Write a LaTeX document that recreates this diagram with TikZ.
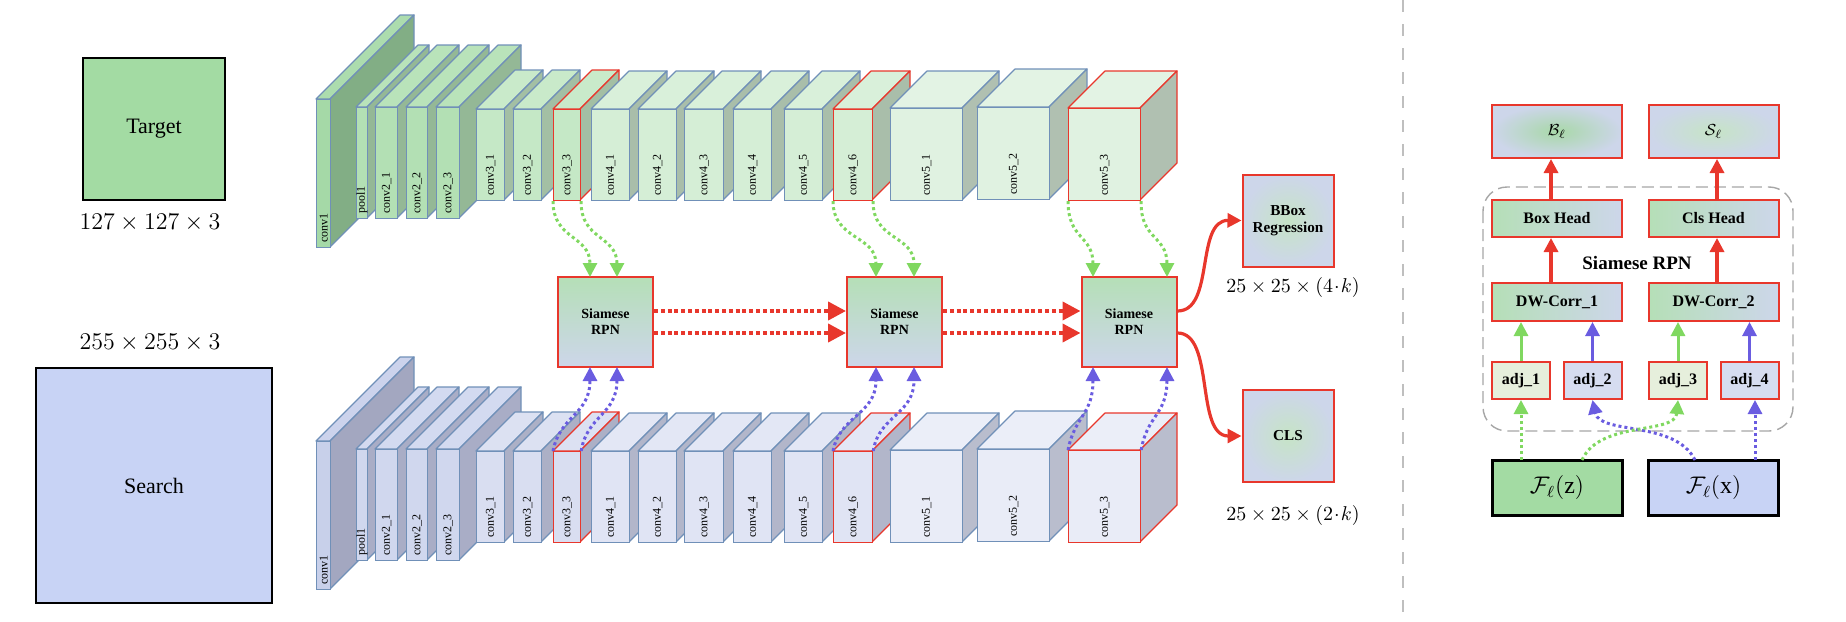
\documentclass[tikz,border=0pt]{standalone}
\usepackage{fontspec}
\setmainfont{Liberation Serif}
\usetikzlibrary{arrows.meta}
\definecolor{g1t}{HTML}{ACDCAE}\definecolor{g1s}{HTML}{82AE85}\definecolor{g1f}{HTML}{A5D9A7}
\definecolor{g2t}{HTML}{B9E3BA}\definecolor{g2s}{HTML}{94B896}\definecolor{g2f}{HTML}{B3E0B4}
\definecolor{g3t}{HTML}{C9EACA}\definecolor{g3s}{HTML}{A3BFA4}\definecolor{g3f}{HTML}{C5E8C6}
\definecolor{g4t}{HTML}{D9F0DA}\definecolor{g4s}{HTML}{A9BEAA}\definecolor{g4f}{HTML}{D5EED6}
\definecolor{g5t}{HTML}{E3F3E4}\definecolor{g5s}{HTML}{B0C0B1}\definecolor{g5f}{HTML}{E0F2E1}
\definecolor{b1t}{HTML}{CCD3EC}\definecolor{b1s}{HTML}{A3A7C0}\definecolor{b1f}{HTML}{C8D0EA}
\definecolor{b2t}{HTML}{D3DAF0}\definecolor{b2s}{HTML}{A9ADC6}\definecolor{b2f}{HTML}{D0D7EE}
\definecolor{b3t}{HTML}{DCE1F2}\definecolor{b3s}{HTML}{ACB0C6}\definecolor{b3f}{HTML}{D9DEF1}
\definecolor{b4t}{HTML}{E3E7F5}\definecolor{b4s}{HTML}{B2B6CA}\definecolor{b4f}{HTML}{E0E4F4}
\definecolor{b5t}{HTML}{EBEEF8}\definecolor{b5s}{HTML}{B9BDCD}\definecolor{b5f}{HTML}{E9ECF7}
\definecolor{bord}{HTML}{7090B8}
\definecolor{rd}{HTML}{E8372C}
\definecolor{gar}{HTML}{80D860}
\definecolor{bar}{HTML}{6A5CE0}
\definecolor{tg}{HTML}{A3DBA3}
\definecolor{sb}{HTML}{C8D3F5}
\definecolor{hg}{HTML}{B5DFB7}
\definecolor{hb}{HTML}{CDD6EA}
\definecolor{glow}{HTML}{C6E4C6}
\definecolor{glowb}{HTML}{A8D8A8}
\definecolor{adjg}{HTML}{E6EFDC}
\definecolor{adjb}{HTML}{D6DCF0}
\newcommand\cuboid[9]{%
 \filldraw[draw=#9, fill=#8t, line width=0.6pt, line join=round] (#2,#3) -- ++(#6,-#6) -- ++(#4,0) -- ++(-#6,#6) -- cycle;
 \filldraw[draw=#9, fill=#8s, line width=0.6pt, line join=round] (#2+#4,#3) -- ++(#6,-#6) -- ++(0,#5) -- ++(-#6,#6) -- cycle;
 \node[draw=#9, fill=#8f, line width=0.6pt, minimum width=#4*0.5pt, minimum height=#5*0.5pt, inner sep=0, anchor=north west] (#1) at (#2,#3) {};
 \path (#1.south) ++(0,-5) node[rotate=90, anchor=west, inner sep=0, font=\fontsize{6}{6}\selectfont] {#7};
}
\tikzset{
 rpn/.style={draw=rd, line width=1pt, top color=hg, bottom color=hb, minimum width=47.5pt, minimum height=45pt, align=center, font=\bfseries\fontsize{7}{8}\selectfont, inner sep=0},
 head/.style={draw=rd, line width=1pt, inner color=glow, outer color=hb, shading=radial, minimum width=45.5pt, minimum height=46pt, align=center, font=\bfseries\fontsize{7.6}{8.6}\selectfont, inner sep=0},
 gdot/.style={gar, line width=1.5pt, dash pattern=on 1.5pt off 1.5pt, -{Triangle[width=7pt,length=7pt]}},
 bdot/.style={bar, line width=1.5pt, dash pattern=on 1.5pt off 1.5pt, -{Triangle[width=7pt,length=7pt]}},
 rdash/.style={rd, line width=2pt, dash pattern=on 2pt off 1.4pt, -{Triangle[width=9pt,length=9pt]}},
 rsol/.style={rd, line width=1.6pt, -{Triangle[width=7pt,length=7pt]}},
 wide/.style={draw=rd, line width=1pt, minimum width=65pt, inner sep=0, font=\bfseries\fontsize{8}{9}\selectfont},
 adj/.style={draw=rd, line width=1pt, minimum width=29pt, minimum height=18.5pt, inner sep=0, font=\bfseries\fontsize{8}{9}\selectfont},
 gsol/.style={gar, line width=1.5pt, -{Triangle[width=7pt,length=7pt]}},
 bsol/.style={bar, line width=1.5pt, -{Triangle[width=7pt,length=7pt]}},
 feat/.style={draw=black, line width=1.5pt, minimum width=65pt, minimum height=27.5pt, inner sep=0, font=\fontsize{12}{12}\selectfont},
}
\begin{document}
\begin{tikzpicture}[x=0.5pt,y=-0.5pt]
\useasboundingbox (0,0) rectangle (1846,621);
% input images
\node[draw=black, line width=1.2pt, fill=tg, minimum width=71pt, minimum height=71pt, inner sep=0, font=\fontsize{11}{11}\selectfont] (target) at (154,129) {Target};
\node[font=\fontsize{11.5}{11.5}\selectfont] (tdim) at (150,223) {$127\times127\times3$};
\node[font=\fontsize{11.5}{11.5}\selectfont] (sdim) at (150,343) {$255\times255\times3$};
\node[draw=black, line width=1.2pt, fill=sb, minimum width=118pt, minimum height=117.5pt, inner sep=0, font=\fontsize{11}{11}\selectfont] (search) at (154,485.5) {Search};
% backbones
\foreach \p/\o/\c/\bc in {t/0/g/bord, b/342/b/bord}{
 \cuboid{\p c1}{316}{99+\o}{14}{148}{84}{conv1}{\c1}{\bc}
 \cuboid{\p p1}{356}{107+\o}{11}{111}{62}{pool1}{\c2}{\bc}
 \cuboid{\p c21}{375}{107+\o}{22}{111}{62}{conv2\_1}{\c2}{\bc}
 \cuboid{\p c22}{406}{107+\o}{21}{111}{62}{conv2\_2}{\c2}{\bc}
 \cuboid{\p c23}{436}{107+\o}{23}{111}{62}{conv2\_3}{\c2}{\bc}
 \cuboid{\p c31}{476}{109+\o}{28}{91}{39}{conv3\_1}{\c3}{\bc}
 \cuboid{\p c32}{513}{109+\o}{28}{91}{39}{conv3\_2}{\c3}{\bc}
 \cuboid{\p c33}{553}{109+\o}{27}{91}{39}{conv3\_3}{\c3}{rd}
 \cuboid{\p c41}{591}{109+\o}{38}{91}{38}{conv4\_1}{\c4}{\bc}
 \cuboid{\p c42}{638}{109+\o}{38}{91}{38}{conv4\_2}{\c4}{\bc}
 \cuboid{\p c43}{684}{109+\o}{39}{91}{38}{conv4\_3}{\c4}{\bc}
 \cuboid{\p c44}{733}{109+\o}{38}{91}{38}{conv4\_4}{\c4}{\bc}
 \cuboid{\p c45}{784}{109+\o}{38}{91}{38}{conv4\_5}{\c4}{\bc}
 \cuboid{\p c46}{833}{109+\o}{39}{91}{38}{conv4\_6}{\c4}{rd}
 \cuboid{\p c51}{890}{108+\o}{72}{92}{37}{conv5\_1}{\c5}{\bc}
 \cuboid{\p c52}{977}{107+\o}{72}{92}{38}{conv5\_2}{\c5}{\bc}
 \cuboid{\p c53}{1068}{108+\o}{72}{92}{37}{conv5\_3}{\c5}{rd}
}
% Siamese RPN blocks
\node[rpn] (r1) at (605.5,322) {Siamese\\RPN};
\node[rpn] (r2) at (894.5,322) {Siamese\\RPN};
\node[rpn] (r3) at (1129,322) {Siamese\\RPN};
% green arrows down
\draw[gdot] (tc33.south west) .. controls (553,240) and (590,235) .. (590,277);
\draw[gdot] (tc33.south east) .. controls (580,240) and (617,235) .. (617,277);
\draw[gdot] (tc46.south west) .. controls (833,240) and (876,235) .. (876,277);
\draw[gdot] (tc46.south east) .. controls (872,240) and (914,235) .. (914,277);
\draw[gdot] (tc53.south west) .. controls (1068,240) and (1093,235) .. (1093,277);
\draw[gdot] (tc53.south east) .. controls (1140,240) and (1167,235) .. (1167,277);
% blue arrows up
\draw[bdot] (bc33.north west) .. controls (560,415) and (590,415) .. (590,367);
\draw[bdot] (bc33.north east) .. controls (587,415) and (617,415) .. (617,367);
\draw[bdot] (bc46.north west) .. controls (840,415) and (876,415) .. (876,367);
\draw[bdot] (bc46.north east) .. controls (879,415) and (914,415) .. (914,367);
\draw[bdot] (bc53.north west) .. controls (1075,415) and (1093,415) .. (1093,367);
\draw[bdot] (bc53.north east) .. controls (1147,415) and (1167,415) .. (1167,367);
% red dashed between RPNs
\draw[rdash] (r1.east |- 0,311) -- (r2.west |- 0,311);
\draw[rdash] (r1.east |- 0,333) -- (r2.west |- 0,333);
\draw[rdash] (r2.east |- 0,311) -- (r3.west |- 0,311);
\draw[rdash] (r2.east |- 0,333) -- (r3.west |- 0,333);
% heads
\node[head] (bbox) at (1288,220.5) {BBox\\Regression};
\node[head] (cls) at (1288,436) {CLS};
\node[font=\fontsize{10}{10}\selectfont] (bdim) at (1293,287) {$25\times25\times(4\!\cdot\! k)$};
\node[font=\fontsize{10}{10}\selectfont] (cdim) at (1293,515) {$25\times25\times(2\!\cdot\! k)$};
\draw[rsol] (r3.east |- 0,311) .. controls (1215,311) and (1195,220) .. (bbox.west);
\draw[rsol] (r3.east |- 0,333) .. controls (1215,333) and (1195,436) .. (cls.west);
% divider
\draw[gray!50, line width=1pt, dash pattern=on 6pt off 6pt] (1403,0) -- (1403,621);
% right panel
\draw[gray!70, line width=0.7pt, dash pattern=on 6pt off 3pt, rounded corners=12pt] (1483,187) rectangle (1793,431);
\node[font=\bfseries\fontsize{9.5}{10}\selectfont] (srpn) at (1637,263) {Siamese RPN};
\node[wide, minimum height=26.5pt, inner color=glowb, outer color=hb, shading=radial] (B) at (1557,131.5) {$\mathcal{B}_\ell$};
\node[wide, minimum height=26.5pt, inner color=glow, outer color=hb, shading=radial] (S) at (1713.5,131.5) {$\mathcal{S}_\ell$};
\node[wide, minimum height=18.5pt, left color=hg, right color=hb] (bh) at (1557,218.5) {Box Head};
\node[wide, minimum height=18.5pt, left color=hg, right color=hb] (ch) at (1713.5,218.5) {Cls Head};
\node[wide, minimum height=19pt, left color=hg, right color=hb] (dw1) at (1557,302) {DW-Corr\_1};
\node[wide, minimum height=19pt, left color=hg, right color=hb] (dw2) at (1713.5,302) {DW-Corr\_2};
\node[adj, fill=adjg] (a1) at (1521,380.5) {adj\_1};
\node[adj, fill=adjb] (a2) at (1592.5,380.5) {adj\_2};
\node[adj, fill=adjg] (a3) at (1678,380.5) {adj\_3};
\node[adj, fill=adjb] (a4) at (1749.5,380.5) {adj\_4};
\node[feat, fill=tg] (fz) at (1557,487.5) {$\mathcal{F}_\ell(\mathrm{z})$};
\node[feat, fill=sb] (fx) at (1713.5,487.5) {$\mathcal{F}_\ell(\mathrm{x})$};
\draw[rsol] (bh.north -| 1551,0) -- (B.south -| 1551,0);
\draw[rsol] (dw1.north -| 1551,0) -- (bh.south -| 1551,0);
\draw[rsol] (ch.north -| 1717,0) -- (S.south -| 1717,0);
\draw[rsol] (dw2.north -| 1717,0) -- (ch.south -| 1717,0);
\draw[gsol] (a1.north) -- (a1.north |- dw1.south);
\draw[bsol] (a2.north) -- (a2.north |- dw1.south);
\draw[gsol] (a3.north) -- (a3.north |- dw2.south);
\draw[bsol] (a4.north) -- (a4.north |- dw2.south);
\coordinate (fz1) at (1521,460);
\coordinate (fz2) at (1582,460);
\coordinate (fx1) at (1695,460);
\coordinate (fx2) at (1755,460);
\draw[gdot] (fz1) -- (a1.south);
\draw[bdot] (fx1) .. controls (1675,420) and (1600,435) .. (a2.south);
\draw[gdot] (fz2) .. controls (1600,420) and (1675,435) .. (a3.south);
\draw[bdot] (fx2) -- (a4.south -| fx2);
\end{tikzpicture}
\end{document}
